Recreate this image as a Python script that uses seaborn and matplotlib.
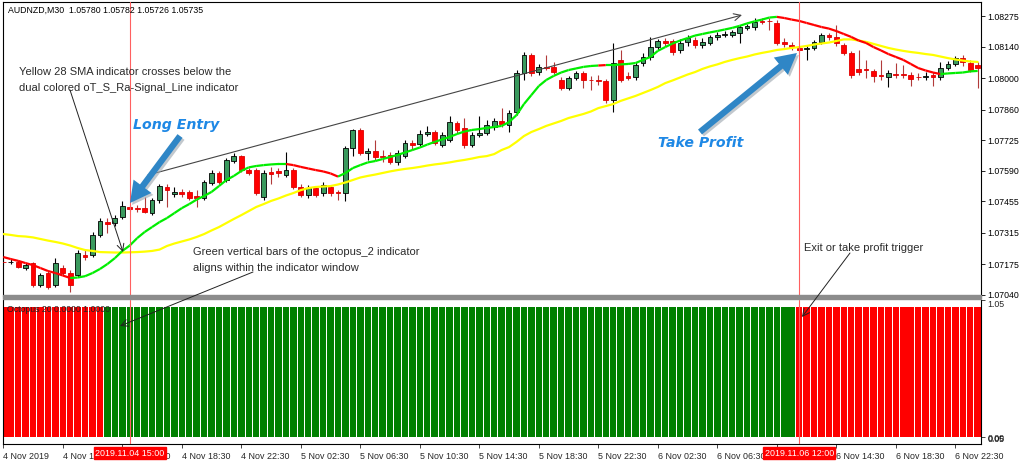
import matplotlib
matplotlib.use("Agg")
import matplotlib.pyplot as plt
import numpy as np
import pandas as pd
import seaborn as sns
from matplotlib.collections import LineCollection
from matplotlib.patches import FancyArrowPatch, Rectangle

# AUDNZD M30 candles, 4 Nov 2019 06:30 onwards
opens = [1.07185, 1.07185, 1.07185, 1.07158, 1.07180, 1.07083, 1.07136, 1.07083, 1.07158, 1.07136,
         1.07127, 1.07216, 1.07216, 1.07305, 1.07362, 1.07358, 1.07385, 1.07429, 1.07424, 1.07424,
         1.07402, 1.07460, 1.07518, 1.07487, 1.07496, 1.07496, 1.07478, 1.07469, 1.07535, 1.07580,
         1.07549, 1.07633, 1.07655, 1.07593, 1.07593, 1.07473, 1.07584, 1.07589, 1.07571, 1.07593,
         1.07518, 1.07482, 1.07513, 1.07491, 1.07518, 1.07496, 1.07491, 1.07691, 1.07771, 1.07669,
         1.07678, 1.07655, 1.07660, 1.07629, 1.07655, 1.07713, 1.07709, 1.07753, 1.07762, 1.07704,
         1.07726, 1.07802, 1.07780, 1.07704, 1.07749, 1.07757, 1.07784, 1.07811, 1.07793, 1.07851,
         1.08024, 1.08104, 1.08028, 1.08051, 1.08051, 1.07993, 1.07957, 1.08002, 1.08024, 1.07993,
         1.07993, 1.07988, 1.07904, 1.08082, 1.08011, 1.08006, 1.08068, 1.08095, 1.08139, 1.08166,
         1.08166, 1.08126, 1.08162, 1.08170, 1.08148, 1.08157, 1.08184, 1.08193, 1.08193, 1.08201,
         1.08224, 1.08228, 1.08255, 1.08255, 1.08246, 1.08162, 1.08148, 1.08135, 1.08130, 1.08135,
         1.08162, 1.08193, 1.08184, 1.08148, 1.08113, 1.08042, 1.08042, 1.08033, 1.08015, 1.08006,
         1.08019, 1.08019, 1.08015, 1.08006, 1.08006, 1.08015, 1.08006, 1.08046, 1.08064, 1.08090,
         1.08068, 1.08059]
highs = [1.07198, 1.07198, 1.07194, 1.07180, 1.07185, 1.07136, 1.07145, 1.07202, 1.07171, 1.07149,
         1.07238, 1.07238, 1.07318, 1.07380, 1.07380, 1.07393, 1.07456, 1.07438, 1.07438, 1.07473,
         1.07469, 1.07531, 1.07531, 1.07518, 1.07509, 1.07504, 1.07504, 1.07549, 1.07593, 1.07589,
         1.07646, 1.07669, 1.07660, 1.07602, 1.07602, 1.07593, 1.07607, 1.07602, 1.07673, 1.07602,
         1.07531, 1.07527, 1.07522, 1.07540, 1.07527, 1.07504, 1.07700, 1.07775, 1.07780, 1.07691,
         1.07726, 1.07682, 1.07673, 1.07682, 1.07726, 1.07726, 1.07771, 1.07789, 1.07771, 1.07762,
         1.07833, 1.07811, 1.07824, 1.07762, 1.07833, 1.07815, 1.07824, 1.07868, 1.07860, 1.08037,
         1.08117, 1.08113, 1.08064, 1.08104, 1.08073, 1.08006, 1.08011, 1.08033, 1.08033, 1.08011,
         1.08015, 1.07997, 1.08157, 1.08126, 1.08028, 1.08073, 1.08113, 1.08184, 1.08175, 1.08179,
         1.08175, 1.08175, 1.08193, 1.08184, 1.08179, 1.08193, 1.08206, 1.08210, 1.08215, 1.08237,
         1.08241, 1.08268, 1.08268, 1.08268, 1.08259, 1.08179, 1.08162, 1.08144, 1.08148, 1.08170,
         1.08201, 1.08201, 1.08237, 1.08157, 1.08122, 1.08126, 1.08082, 1.08042, 1.08082, 1.08037,
         1.08068, 1.08059, 1.08028, 1.08024, 1.08028, 1.08028, 1.08073, 1.08077, 1.08099, 1.08104,
         1.08082, 1.08073]
lows = [1.07171, 1.07176, 1.07158, 1.07149, 1.07074, 1.07074, 1.07065, 1.07074, 1.07127, 1.07052,
        1.07118, 1.07194, 1.07207, 1.07296, 1.07313, 1.07345, 1.07376, 1.07411, 1.07407, 1.07402,
        1.07393, 1.07447, 1.07429, 1.07473, 1.07473, 1.07460, 1.07429, 1.07460, 1.07527, 1.07531,
        1.07540, 1.07624, 1.07584, 1.07571, 1.07482, 1.07460, 1.07531, 1.07562, 1.07562, 1.07509,
        1.07473, 1.07469, 1.07473, 1.07478, 1.07478, 1.07460, 1.07456, 1.07655, 1.07660, 1.07638,
        1.07638, 1.07629, 1.07620, 1.07615, 1.07646, 1.07682, 1.07700, 1.07744, 1.07704, 1.07695,
        1.07718, 1.07757, 1.07691, 1.07695, 1.07740, 1.07749, 1.07771, 1.07784, 1.07762, 1.07837,
        1.07993, 1.08011, 1.08015, 1.08037, 1.08019, 1.07948, 1.07948, 1.07993, 1.07957, 1.07948,
        1.07971, 1.07891, 1.07851, 1.07984, 1.07993, 1.07993, 1.08055, 1.08082, 1.08126, 1.08144,
        1.08104, 1.08113, 1.08144, 1.08135, 1.08135, 1.08148, 1.08170, 1.08184, 1.08184, 1.08157,
        1.08215, 1.08215, 1.08241, 1.08215, 1.08148, 1.08139, 1.08126, 1.08117, 1.08082, 1.08126,
        1.08153, 1.08170, 1.08144, 1.08104, 1.08002, 1.08015, 1.08002, 1.07984, 1.07993, 1.07962,
        1.08002, 1.08002, 1.07966, 1.07993, 1.07993, 1.07966, 1.07993, 1.08037, 1.08055, 1.08055,
        1.08028, 1.07957]
closes = [1.07183, 1.07187, 1.07163, 1.07171, 1.07083, 1.07127, 1.07074, 1.07180, 1.07136, 1.07083,
          1.07225, 1.07207, 1.07305, 1.07367, 1.07353, 1.07380, 1.07433, 1.07420, 1.07422, 1.07407,
          1.07460, 1.07522, 1.07504, 1.07496, 1.07487, 1.07469, 1.07469, 1.07540, 1.07580, 1.07540,
          1.07638, 1.07655, 1.07593, 1.07580, 1.07491, 1.07580, 1.07575, 1.07580, 1.07593, 1.07518,
          1.07482, 1.07513, 1.07482, 1.07527, 1.07491, 1.07491, 1.07691, 1.07771, 1.07669, 1.07678,
          1.07651, 1.07653, 1.07629, 1.07669, 1.07713, 1.07704, 1.07753, 1.07762, 1.07713, 1.07749,
          1.07806, 1.07771, 1.07704, 1.07749, 1.07757, 1.07793, 1.07811, 1.07797, 1.07846, 1.08024,
          1.08104, 1.08024, 1.08051, 1.08046, 1.08028, 1.07957, 1.08002, 1.08024, 1.07993, 1.07991,
          1.07988, 1.07904, 1.08068, 1.07993, 1.08002, 1.08059, 1.08095, 1.08139, 1.08166, 1.08157,
          1.08117, 1.08157, 1.08179, 1.08148, 1.08162, 1.08184, 1.08193, 1.08197, 1.08206, 1.08228,
          1.08233, 1.08250, 1.08250, 1.08253, 1.08157, 1.08153, 1.08139, 1.08126, 1.08135, 1.08162,
          1.08193, 1.08184, 1.08157, 1.08113, 1.08015, 1.08028, 1.08037, 1.08011, 1.08011, 1.08024,
          1.08015, 1.08015, 1.07997, 1.08004, 1.08011, 1.08006, 1.08046, 1.08064, 1.08090, 1.08073,
          1.08037, 1.08046]

# Yellow 28 SMA
sma28 = [1.07309, 1.07305, 1.07300, 1.07298, 1.07294, 1.07287, 1.07280, 1.07274, 1.07267, 1.07258,
         1.07247, 1.07238, 1.07234, 1.07229, 1.07228, 1.07227, 1.07227, 1.07228, 1.07229, 1.07231,
         1.07234, 1.07240, 1.07256, 1.07267, 1.07276, 1.07285, 1.07296, 1.07309, 1.07325, 1.07340,
         1.07358, 1.07376, 1.07393, 1.07411, 1.07429, 1.07442, 1.07456, 1.07467, 1.07480, 1.07491,
         1.07504, 1.07513, 1.07518, 1.07520, 1.07522, 1.07529, 1.07538, 1.07549, 1.07560, 1.07567,
         1.07573, 1.07580, 1.07587, 1.07593, 1.07598, 1.07602, 1.07607, 1.07613, 1.07618, 1.07622,
         1.07627, 1.07633, 1.07638, 1.07644, 1.07651, 1.07655, 1.07664, 1.07682, 1.07695, 1.07718,
         1.07744, 1.07762, 1.07775, 1.07789, 1.07800, 1.07811, 1.07824, 1.07833, 1.07842, 1.07853,
         1.07868, 1.07877, 1.07886, 1.07900, 1.07911, 1.07922, 1.07935, 1.07948, 1.07962, 1.07979,
         1.07991, 1.08004, 1.08017, 1.08028, 1.08042, 1.08053, 1.08062, 1.08073, 1.08082, 1.08090,
         1.08097, 1.08106, 1.08113, 1.08119, 1.08126, 1.08130, 1.08135, 1.08139, 1.08144, 1.08150,
         1.08155, 1.08159, 1.08166, 1.08173, 1.08173, 1.08168, 1.08162, 1.08153, 1.08144, 1.08135,
         1.08128, 1.08122, 1.08117, 1.08113, 1.08108, 1.08104, 1.08097, 1.08090, 1.08084, 1.08079,
         1.08075, 1.08073]

# oT_S_Ra-Signal_Line (dual coloured)
signal = [1.07207, 1.07198, 1.07190, 1.07180, 1.07171, 1.07158, 1.07145, 1.07136, 1.07125, 1.07114,
          1.07116, 1.07122, 1.07136, 1.07154, 1.07176, 1.07202, 1.07234, 1.07258, 1.07291, 1.07318,
          1.07340, 1.07362, 1.07380, 1.07402, 1.07424, 1.07442, 1.07462, 1.07478, 1.07496, 1.07522,
          1.07549, 1.07567, 1.07589, 1.07605, 1.07611, 1.07615, 1.07618, 1.07620, 1.07620, 1.07615,
          1.07607, 1.07600, 1.07593, 1.07587, 1.07578, 1.07564, 1.07580, 1.07602, 1.07615, 1.07627,
          1.07633, 1.07642, 1.07651, 1.07660, 1.07671, 1.07682, 1.07693, 1.07706, 1.07718, 1.07729,
          1.07740, 1.07753, 1.07764, 1.07771, 1.07775, 1.07780, 1.07784, 1.07789, 1.07806, 1.07837,
          1.07886, 1.07926, 1.07966, 1.07993, 1.08011, 1.08026, 1.08037, 1.08044, 1.08051, 1.08055,
          1.08057, 1.08059, 1.08059, 1.08062, 1.08064, 1.08068, 1.08082, 1.08095, 1.08122, 1.08139,
          1.08155, 1.08168, 1.08179, 1.08190, 1.08197, 1.08204, 1.08210, 1.08217, 1.08224, 1.08233,
          1.08244, 1.08253, 1.08261, 1.08270, 1.08273, 1.08268, 1.08261, 1.08255, 1.08246, 1.08237,
          1.08228, 1.08221, 1.08210, 1.08197, 1.08184, 1.08168, 1.08157, 1.08139, 1.08124, 1.08108,
          1.08095, 1.08082, 1.08064, 1.08046, 1.08035, 1.08026, 1.08019, 1.08022, 1.08024, 1.08026,
          1.08031, 1.08033]
signal_runs = [("red", 10), ("green", 29), ("red", 7), ("green", 35), ("red", 1),
               ("green", 23), ("red", 22), ("green", 5)]

# octopus_2 window
octopus_level = 1.0
octopus_runs = [("red", 14), ("green", 93), ("red", 25)]

price_ticks = [1.08275, 1.08140, 1.08000, 1.07860, 1.07725, 1.07590, 1.07455, 1.07315, 1.07175, 1.07040]
time_labels = ["4 Nov 2019", "4 Nov 10:30", "4 Nov 14:30", "4 Nov 18:30", "4 Nov 22:30",
               "5 Nov 02:30", "5 Nov 06:30", "5 Nov 10:30", "5 Nov 14:30", "5 Nov 18:30",
               "5 Nov 22:30", "6 Nov 02:30", "6 Nov 06:30", "6 Nov 10:30", "6 Nov 14:30",
               "6 Nov 18:30", "6 Nov 22:30"]
tick_step = 8
marker_bars = [17, 107]
marker_labels = ["2019.11.04 15:00", "2019.11.06 12:00"]

sns.set_style("white")
plt.rcParams['font.family'] = ['Liberation Sans', 'DejaVu Sans']

W, H = 1024, 465
def fx(px):
    return px / W
def fy(py):
    return 1 - py / H

df = pd.DataFrame({'open': opens, 'high': highs, 'low': lows, 'close': closes})
df['bar'] = np.arange(len(df))
n = len(df)

fig = plt.figure(figsize=(10.24, 4.65), dpi=100)
ax = fig.add_axes([fx(3), fy(296), fx(981) - fx(3), fy(2) - fy(296)])
axo = fig.add_axes([fx(3), fy(444), fx(981) - fx(3), fy(300) - fy(444)])

# candles
up = df['close'] >= df['open']
body_lo = df[['open', 'close']].min(axis=1)
body_h = (df['close'] - df['open']).abs().clip(lower=0.00001)
ax.vlines(df.loc[up, 'bar'], df.loc[up, 'low'], df.loc[up, 'high'], color='black', lw=0.8, zorder=2)
ax.vlines(df.loc[~up, 'bar'], df.loc[~up, 'low'], df.loc[~up, 'high'], color='#b23a3a', lw=0.8, zorder=2)
ax.bar(df.loc[up, 'bar'], body_h[up], bottom=body_lo[up], width=0.64,
       color='#3a9a5e', edgecolor='black', lw=0.6, zorder=3)
ax.bar(df.loc[~up, 'bar'], body_h[~up], bottom=body_lo[~up], width=0.64,
       color='#ff0000', edgecolor='#e00000', lw=0.6, zorder=3)

# yellow SMA
sns.lineplot(x=df['bar'], y=sma28, color='#ffff00', linewidth=1.6, ax=ax, zorder=4)

# signal line
sig_colors = []
for c, k in signal_runs:
    sig_colors += [c] * k
cmap = {'red': '#ff0000', 'green': '#00ee00'}
segs = [[(i - 1, signal[i - 1]), (i, signal[i])] for i in range(1, n)]
lc = LineCollection(segs, colors=[cmap[c] for c in sig_colors[1:]], linewidths=1.6, zorder=5)
ax.add_collection(lc)

ax.set_xlim(-0.04, 131.45)
ax.set_ylim(1.07034, 1.08339)
ax.yaxis.tick_right()
ax.set_yticks(price_ticks)
ax.set_yticklabels([f"{v:.5f}" for v in price_ticks])
ax.tick_params(axis='y', right=True, direction='out', length=3, width=0.6, pad=1.5,
               labelsize=6.3, colors='black')
ax.set_xticks([])
ax.set_xlabel('')
ax.set_ylabel('')
for s in ['top', 'left', 'right']:
    ax.spines[s].set_color('black')
    ax.spines[s].set_linewidth(0.8)
ax.spines['bottom'].set_visible(False)

# octopus bars
osc_colors = []
for c, k in octopus_runs:
    osc_colors += [c] * k
ocmap = {'red': '#ff0000', 'green': '#008000'}
axo.bar(df['bar'], np.full(n, octopus_level), width=0.87,
        color=[ocmap[c] for c in osc_colors], edgecolor='none', zorder=2)
axo.set_xlim(-0.04, 131.45)
axo.set_ylim(-0.05, 1.05)
axo.yaxis.tick_right()
axo.set_yticks([1.05, 0.0])
axo.set_yticklabels(["1.05", "0.00"])
axo.get_yticklabels()[0].set_va('top')
axo.tick_params(axis='y', right=True, direction='out', length=3, width=0.6, pad=1.5, labelsize=6.3)
axo.set_xticks(np.arange(0, n, tick_step))
axo.set_xticklabels(time_labels, ha='left')
axo.tick_params(axis='x', bottom=True, direction='out', length=3, width=0.6, pad=2.5, labelsize=6.4)
for s in ['bottom', 'left', 'right']:
    axo.spines[s].set_color('black')
    axo.spines[s].set_linewidth(0.8)
axo.spines['top'].set_visible(False)

for b, lab in zip(marker_bars, marker_labels):
    ax.axvline(b, color='#ff6060', lw=0.8, zorder=6)
    axo.axvline(b, color='#ff6060', lw=0.8, zorder=6)
    axo.annotate(lab, xy=(b, 0), xycoords=('data', 'axes fraction'), xytext=(0, -6.6),
                 textcoords='offset points', ha='center', va='center', fontsize=6.4,
                 color='white', zorder=10,
                 bbox=dict(boxstyle='square,pad=0.18', fc='#ff0000', ec='#ff0000'))

# separator between windows
fig.add_artist(Rectangle((fx(3), fy(299)), fx(981) - fx(3), fy(295) - fy(299),
                         transform=fig.transFigure, color='#8c8c8c', zorder=1))

fig.text(fx(8), fy(10), "AUDNZD,M30  1.05780 1.05782 1.05726 1.05735", fontsize=6.3,
         ha='left', va='center', color='black')
fig.text(fx(7), fy(309), "Octopus 20 0.0000 1.0000", fontsize=6.3, ha='left', va='center', color='#222222')
fig.text(fx(988), fy(439.5), "0.05", fontsize=6.3, ha='left', va='center', color='black')

note = dict(fontsize=8, ha='left', va='center', color='#2b2b2b')
fig.text(fx(19), fy(72), "Yellow 28 SMA indicator crosses below the", **note)
fig.text(fx(19), fy(88), "dual colored oT_S_Ra-Signal_Line indicator", **note)
fig.text(fx(193), fy(252), "Green vertical bars of the octopus_2 indicator", **note)
fig.text(fx(193), fy(268), "aligns within the indicator window", **note)
fig.text(fx(804), fy(248), "Exit or take profit trigger", **note)

big = dict(fontsize=10.2, fontweight='bold', style='italic', family='DejaVu Sans',
           ha='left', va='center', color='#1e88e5')
fig.text(fx(133), fy(125), "Long Entry", **big)
fig.text(fx(658), fy(143), "Take Profit", **big)

def thin(p0, p1, color='#222222', lw=0.7):
    fig.add_artist(FancyArrowPatch((fx(p0[0]), fy(p0[1])), (fx(p1[0]), fy(p1[1])),
                                   transform=fig.transFigure, arrowstyle='->,head_length=0.5,head_width=0.25',
                                   mutation_scale=10, color=color, lw=lw, shrinkA=0, shrinkB=0, zorder=8))

thin((70, 90), (123, 252))
thin((253, 272), (120, 326))
thin((850, 253), (802, 317))
thin((148, 175), (742, 15), color='#444444', lw=0.8)

def fat(p0, p1):
    fig.add_artist(FancyArrowPatch((fx(p0[0] + 2), fy(p0[1] + 2)), (fx(p1[0] + 2), fy(p1[1] + 2)),
                                   transform=fig.transFigure,
                                   arrowstyle='simple,head_length=1.5,head_width=1.6,tail_width=0.45',
                                   mutation_scale=10, color='#9aa4ad', alpha=0.6, lw=0,
                                   shrinkA=0, shrinkB=0, zorder=8))
    fig.add_artist(FancyArrowPatch((fx(p0[0]), fy(p0[1])), (fx(p1[0]), fy(p1[1])),
                                   transform=fig.transFigure,
                                   arrowstyle='simple,head_length=1.5,head_width=1.6,tail_width=0.45',
                                   mutation_scale=10, color='#2f86c6', lw=0,
                                   shrinkA=0, shrinkB=0, zorder=9))

fat((180, 136), (130, 203))
fat((700, 132), (797, 53))

plt.savefig('out.png', dpi=100)
plt.close()
